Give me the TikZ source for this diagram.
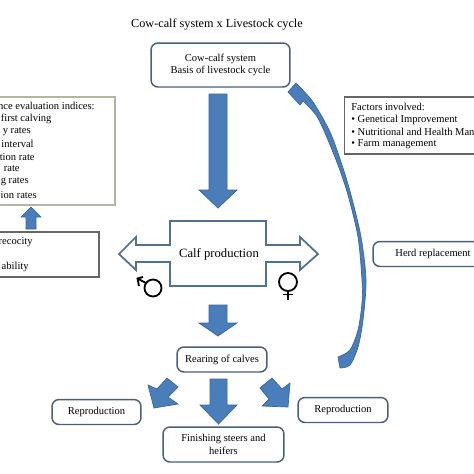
\documentclass[tikz,border=0pt]{standalone}
\usepackage{fontspec}
\setmainfont{Liberation Serif}
\definecolor{arrowblue}{HTML}{4A7EBB}
\definecolor{arrowedge}{HTML}{3A6699}
\definecolor{boxedge}{HTML}{4A5F78}
\definecolor{calfedge}{HTML}{54708F}
\definecolor{oliveedge}{HTML}{B4B4A2}
\tikzset{
  roundbox/.style={draw=boxedge, line width=0.85pt, rounded corners=0.14cm, align=center, font=\fontsize{6}{7.3}\selectfont, inner sep=0pt},
  plainbox/.style={draw=gray!80!black, line width=0.6pt, inner sep=0pt},
  label/.style={font=\fontsize{6}{7}\selectfont, inner sep=0pt},
  blockarrow/.style={fill=arrowblue, draw=arrowedge, line width=0.4pt, line join=miter},
  symbolline/.style={draw=black, line width=1.05pt}
}
\begin{document}
\begin{tikzpicture}[x=0.02cm, y=-0.02cm]
\clip (0,0) rectangle (474,474);
\fill[white] (0,0) rectangle (474,474);
\node[font=\fontsize{6.95}{8}\selectfont, inner sep=0pt] (title) at (217,25) {Cow-calf system x Livestock cycle};
% boxes
\node[roundbox, minimum width=2.78cm, minimum height=0.88cm] (basis) at (220.5,65) {Cow-calf system\\Basis of livestock cycle};
\node[roundbox, minimum width=1.8cm, minimum height=0.5cm] (rearing) at (222,359.5) {Rearing of calves};
\node[roundbox, minimum width=2.42cm, minimum height=0.7cm] (finishing) at (223.5,444.5) {Finishing steers and\\heifers};
\node[roundbox, minimum width=1.78cm, minimum height=0.5cm] (reproleft) at (96.5,412) {Reproduction};
\node[roundbox, minimum width=1.8cm, minimum height=0.5cm] (reproright) at (343,410) {Reproduction};
\node[roundbox, minimum width=2.4cm, minimum height=0.5cm] (herd) at (433,254) {Herd replacement};
\node[plainbox, draw=oliveedge, minimum width=2.7cm, minimum height=2.16cm] (indices) at (47.5,151) {};
\node[plainbox, minimum width=2.4cm, minimum height=0.9cm] (precocity) at (39,254.5) {};
\node[plainbox, minimum width=3.1cm, minimum height=1.14cm] (factors) at (422,125.5) {};
% cut text of the left boxes
\node[label, anchor=east] (ind1) at (95,106) {nce evaluation indices:};
\node[label, anchor=west] (ind2) at (0.5,119) {first calving};
\node[label, anchor=east] (ind3) at (31,132) {y rates};
\node[label, anchor=east] (ind4) at (34,144) {interval};
\node[label, anchor=east] (ind5) at (35,157) {tion rate};
\node[label, anchor=east] (ind6) at (20,169) {rate};
\node[label, anchor=east] (ind7) at (29,182) {g rates};
\node[label, anchor=east] (ind8) at (37,195) {ion rates};
\node[label, anchor=east] (prec1) at (33,242) {recocity};
\node[label, anchor=east] (prec2) at (29,267) {ability};
% factors
\node[label, anchor=west] (fac1) at (351,106.5) {Factors involved:};
\node[label, anchor=west] (fac2) at (351,119.5) {\textbullet\ Genetical Improvement};
\node[label, anchor=west] (fac3) at (351,132) {\textbullet\ Nutritional and Health Man};
\node[label, anchor=west] (fac4) at (351,144.5) {\textbullet\ Farm management};
% block arrows
\filldraw[blockarrow] (209,94) -- (227,94) -- (227,190) -- (237,190) -- (218,208) -- (199,190) -- (209,190) -- cycle;
\filldraw[blockarrow] (209,305) -- (227,305) -- (227,323) -- (237,323) -- (218,336) -- (199,323) -- (209,323) -- cycle;
\filldraw[blockarrow] (210,379) -- (227,379) -- (227,405) -- (237,405) -- (218.5,424) -- (200,405) -- (210,405) -- cycle;
\filldraw[blockarrow] (26,229) -- (36,229) -- (36,217) -- (41,217) -- (31,207) -- (21,217) -- (26,217) -- cycle;
\filldraw[blockarrow] (148,385) -- (154,408) -- (178,404) -- (168,397) -- (178,387) -- (167,378) -- (157,389) -- cycle;
\filldraw[blockarrow] (260,388) -- (272,378) -- (282,389) -- (290,383) -- (288,407) -- (262,406) -- (269,399) -- cycle;
% calf production
\draw[calfedge, line width=1pt, fill=white] (170,221) -- (266,221) -- (266,245) -- (300,245) -- (300,237) -- (318,254) -- (300,270) -- (300,262) -- (266,262) -- (266,286) -- (170,286) -- (170,262) -- (136,262) -- (136,270) -- (119,254) -- (136,237) -- (136,245) -- (170,245) -- cycle;
\node[font=\fontsize{7.2}{8}\selectfont, inner sep=0pt] (calf) at (219,254) {Calf production};
% herd replacement arrow
\filldraw[blockarrow] (296,83) -- (288,92) -- (300,105) -- (303,101)
  -- plot[smooth] coordinates {(303,101) (316,115) (325,133) (338,165) (348,195) (358,237) (362,280) (362,303) (358,330) (350,350) (338,357)}
  -- (340,368)
  -- plot[smooth] coordinates {(340,368) (350,365) (358,347) (363,320) (366,280) (361,237) (351,195) (342,165) (330,132) (313,102) (296,83)} -- cycle;
% sex symbols
\draw[symbolline] (153,288) circle (8.5);
\draw[symbolline] (146,283) -- (137.5,278.5);
\draw[symbolline] (143,277) -- (137.5,278.5) -- (139,286);
\draw[symbolline] (288,282) circle (9);
\draw[symbolline] (288,291) -- (288,300);
\draw[symbolline] (283,294.5) -- (293,294.5);
\end{tikzpicture}
\end{document}
